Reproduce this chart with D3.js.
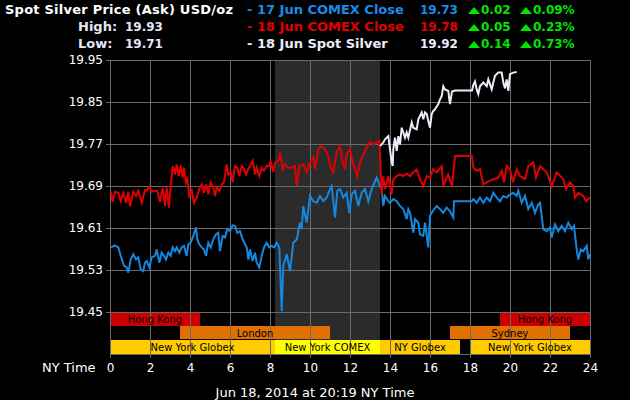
<!DOCTYPE html>
<html><head><meta charset="utf-8">
<script src="https://cdn.jsdelivr.net/npm/d3@7/dist/d3.min.js"></script>
<style>html,body{margin:0;padding:0;background:#000;overflow:hidden}svg{display:block}</style>
</head><body>
<svg id="chart" width="630" height="400"></svg>
<script>
// ---------- data ----------
const xTicks = [0, 2, 4, 6, 8, 10, 12, 14, 16, 18, 20, 22, 24];
const yTicks = [19.45, 19.53, 19.61, 19.69, 19.77, 19.85, 19.93];
const yTickLabels = ["19.45", "19.53", "19.61", "19.69", "19.77", "19.85", "19.95"];

const titleText = "Spot Silver Price (Ask) USD/oz";
const statLabels = ["High:", "Low:"];
const statValues = ["19.93", "19.71"];

const legendLabels = ["- 17 Jun COMEX Close", "- 18 Jun COMEX Close", "- 18 Jun Spot Silver"];
const legendCloses = ["19.73", "19.78", "19.92"];
const legendChanges = ["0.02", "0.05", "0.14"];
const legendPercents = ["0.09%", "0.23%", "0.73%"];

const xAxisLabel = "NY Time";
const timestampText = "Jun 18, 2014 at 20:19 NY Time";

// COMEX trading hours (shaded band)
const comexStart = 8.25, comexEnd = 13.5;

// trading sessions
const sessionNames = ["Hong Kong", "London", "New York Globex", "New York COMEX", "NY Globex", "Sydney", "New York Globex", "Hong Kong"];
const sessionTypes = ["hk", "london", "globex", "comex", "globex", "sydney", "globex", "hk"];
const sessionStart = [0, 3.5, 0, 8.25, 13.5, 17, 18, 19.5];
const sessionEnd = [4.5, 11, 8.25, 13.5, 17.5, 23, 24, 24];
const sessionRow = [0, 1, 2, 2, 2, 1, 2, 0];

// 17 Jun COMEX Close line (blue)
const blueHours = [0.05,0.25,0.415,0.535,0.7,0.835,0.915,1.035,1.165,1.3,1.415,1.535,1.665,1.75,1.835,1.965,2.085,2.25,2.335,2.465,2.585,2.7,2.8,2.915,3.035,3.135,3.25,3.335,3.465,3.585,3.7,3.835,3.915,4.035,4.165,4.3,4.365,4.465,4.585,4.7,4.8,4.915,5.035,5.165,5.3,5.415,5.5,5.635,5.75,5.865,6.0,6.135,6.25,6.365,6.5,6.635,6.75,6.835,6.915,7.0,7.135,7.25,7.335,7.465,7.585,7.7,7.835,7.965,8.085,8.2,8.335,8.465,8.585,8.665,8.835,9.0,9.165,9.335,9.5,9.585,9.665,9.835,10.0,10.165,10.335,10.5,10.665,10.835,11.0,11.085,11.25,11.365,11.5,11.665,11.835,11.965,12.085,12.25,12.415,12.585,12.75,12.915,13.085,13.25,13.335,13.465,13.585,13.665,13.75,13.915,14.0,14.165,14.335,14.5,14.665,14.835,14.915,15.0,15.165,15.25,15.415,15.5,15.665,15.75,15.915,16.0,16.085,16.335,16.5,16.665,16.835,17.0,17.165,17.2,18.085,18.165,18.335,18.5,18.665,18.835,19.0,19.165,19.335,19.5,19.665,19.835,20.0,20.165,20.335,20.415,20.585,20.75,20.915,21.085,21.25,21.415,21.5,21.665,21.835,22.0,22.085,22.25,22.415,22.585,22.75,22.915,23.085,23.2,23.335,23.415,23.535,23.665,23.835,23.915,24.0];
const blueValues = [19.573,19.577,19.573,19.557,19.538,19.535,19.525,19.550,19.560,19.550,19.554,19.531,19.528,19.544,19.547,19.535,19.554,19.557,19.569,19.544,19.563,19.557,19.550,19.563,19.557,19.573,19.566,19.573,19.563,19.573,19.576,19.557,19.579,19.582,19.595,19.611,19.588,19.579,19.573,19.569,19.557,19.582,19.573,19.588,19.598,19.601,19.566,19.595,19.592,19.608,19.604,19.615,19.614,19.601,19.604,19.588,19.579,19.573,19.550,19.569,19.547,19.563,19.544,19.535,19.557,19.573,19.582,19.573,19.576,19.573,19.582,19.573,19.452,19.538,19.560,19.528,19.582,19.588,19.620,19.608,19.652,19.620,19.671,19.661,19.658,19.671,19.661,19.668,19.684,19.690,19.630,19.681,19.684,19.668,19.677,19.639,19.674,19.681,19.652,19.677,19.684,19.661,19.684,19.699,19.706,19.693,19.684,19.652,19.671,19.661,19.658,19.665,19.661,19.652,19.646,19.627,19.646,19.639,19.601,19.627,19.620,19.598,19.595,19.620,19.573,19.633,19.639,19.652,19.646,19.639,19.649,19.642,19.630,19.661,19.661,19.665,19.658,19.668,19.658,19.668,19.661,19.677,19.668,19.661,19.671,19.668,19.674,19.677,19.671,19.681,19.658,19.671,19.646,19.658,19.639,19.655,19.658,19.608,19.604,19.611,19.592,19.617,19.604,19.614,19.604,19.620,19.608,19.614,19.569,19.550,19.569,19.566,19.576,19.550,19.560];

// 18 Jun COMEX Close line (red)
const redHours = [0.05,0.135,0.25,0.415,0.535,0.665,0.8,0.915,1.0,1.165,1.3,1.415,1.585,1.75,1.835,1.965,2.085,2.25,2.365,2.5,2.635,2.75,2.835,2.95,3.035,3.135,3.25,3.335,3.435,3.535,3.635,3.7,3.8,3.865,3.965,4.085,4.2,4.335,4.465,4.585,4.7,4.8,4.915,5.035,5.165,5.25,5.335,5.465,5.585,5.7,5.835,5.915,6.035,6.135,6.25,6.365,6.465,6.585,6.665,6.8,6.915,7.035,7.135,7.25,7.335,7.465,7.585,7.7,7.835,7.965,8.035,8.165,8.25,8.415,8.5,8.635,8.75,8.915,9.085,9.25,9.335,9.465,9.665,9.835,10.0,10.165,10.25,10.415,10.585,10.75,10.915,11.035,11.165,11.335,11.5,11.635,11.75,11.835,12.0,12.135,12.25,12.365,12.5,12.665,12.8,12.915,13.0,13.165,13.335,13.465,13.585,13.665,13.75,13.915,14.085,14.165,14.335,14.5,14.665,14.835,15.0,15.165,15.335,15.5,15.665,15.835,16.0,16.165,16.335,16.585,16.665,16.9,17.1,17.25,18.1,18.165,18.335,18.5,18.665,18.835,19.165,19.415,19.585,19.7,19.835,20.0,20.15,20.335,20.5,20.75,20.915,21.165,21.3,21.5,21.835,22.085,22.335,22.665,22.8,23.0,23.165,23.25,23.415,23.665,23.8,24.0];
const redValues = [19.679,19.660,19.679,19.677,19.661,19.677,19.658,19.679,19.651,19.679,19.671,19.681,19.658,19.682,19.681,19.689,19.679,19.681,19.681,19.660,19.687,19.652,19.687,19.649,19.690,19.728,19.712,19.731,19.709,19.729,19.706,19.725,19.697,19.703,19.671,19.681,19.658,19.668,19.684,19.693,19.677,19.693,19.674,19.697,19.687,19.671,19.687,19.681,19.693,19.697,19.731,19.712,19.716,19.697,19.728,19.725,19.709,19.728,19.725,19.712,19.722,19.731,19.738,19.712,19.725,19.709,19.725,19.719,19.728,19.728,19.738,19.716,19.735,19.738,19.754,19.722,19.731,19.725,19.725,19.728,19.690,19.728,19.731,19.716,19.735,19.744,19.722,19.760,19.766,19.760,19.747,19.725,19.716,19.754,19.766,19.735,19.722,19.750,19.760,19.735,19.722,19.709,19.735,19.750,19.760,19.769,19.774,19.769,19.773,19.776,19.674,19.709,19.684,19.709,19.674,19.703,19.709,19.712,19.709,19.714,19.709,19.716,19.721,19.703,19.690,19.709,19.706,19.722,19.716,19.728,19.690,19.712,19.689,19.747,19.747,19.725,19.719,19.722,19.693,19.697,19.703,19.706,19.719,19.697,19.728,19.722,19.697,19.722,19.709,19.703,19.728,19.735,19.706,19.728,19.716,19.690,19.716,19.703,19.684,19.697,19.690,19.668,19.677,19.671,19.661,19.668];

// 18 Jun Spot Silver line (white)
const spotHours = [13.5,13.665,13.75,13.915,14.0,14.085,14.135,14.165,14.25,14.335,14.415,14.5,14.585,14.665,14.75,14.835,14.915,15.085,15.165,15.335,15.415,15.585,15.665,15.75,15.835,15.915,16.0,16.085,16.165,16.25,16.415,16.5,16.585,16.665,16.75,16.915,16.965,17.0,17.1,17.25,18.1,18.165,18.25,18.335,18.415,18.5,18.665,18.835,18.915,19.085,19.165,19.25,19.415,19.585,19.665,19.75,19.835,19.915,20.0,20.165,20.335];
const spotValues = [19.766,19.773,19.779,19.785,19.760,19.735,19.728,19.760,19.782,19.757,19.785,19.769,19.801,19.792,19.782,19.792,19.782,19.811,19.801,19.798,19.817,19.830,19.817,19.830,19.827,19.814,19.801,19.827,19.833,19.836,19.846,19.855,19.861,19.880,19.874,19.871,19.855,19.846,19.870,19.872,19.872,19.882,19.889,19.874,19.865,19.880,19.887,19.880,19.893,19.874,19.887,19.900,19.906,19.906,19.887,19.876,19.893,19.871,19.903,19.906,19.907];

// ---------- chart ----------
const W = 630, H = 400;
const pL = 110, pR = 590, pT = 60, pB = 354;
const FONT = "'DejaVu Sans', Verdana, sans-serif";

const svg = d3.select("#chart");
svg.append("rect").attr("width", W).attr("height", H).attr("fill", "#000");

const x = d3.scaleLinear().domain([0, 24]).range([pL, pR]);
const y = d3.scaleLinear().domain([19.37, 19.93]).range([pB, pT]);

// COMEX shaded band
svg.append("rect")
  .attr("x", x(comexStart)).attr("y", pT)
  .attr("width", x(comexEnd) - x(comexStart)).attr("height", pB - pT)
  .attr("fill", "#2b2b2b");

// sessions
const sessionColor = {hk: "#cc0000", london: "#e07000", sydney: "#e07000", globex: "#ffcc00", comex: "#ffff00"};
const rowY = [313, 326, 340], rowH = [13, 13, 14], rowBase = [10, 11, 11];
const sessions = sessionNames.map((n, i) => ({name: n, type: sessionTypes[i], s: sessionStart[i], e: sessionEnd[i], row: sessionRow[i]}));
svg.append("g").selectAll("rect").data(sessions).join("rect")
  .attr("x", d => x(d.s)).attr("width", d => x(d.e) - x(d.s))
  .attr("y", d => rowY[d.row]).attr("height", d => rowH[d.row])
  .attr("fill", d => sessionColor[d.type]);

// grid
const grid = svg.append("g").attr("stroke", "#6a6a6a").attr("stroke-width", 1).attr("shape-rendering", "crispEdges");
grid.selectAll(".v").data(xTicks).join("line")
  .attr("x1", d => Math.round(x(d)) + 0.5).attr("x2", d => Math.round(x(d)) + 0.5)
  .attr("y1", pT).attr("y2", pB + 4);
grid.selectAll(".h").data(yTicks).join("line")
  .attr("x1", pL - 4).attr("x2", pR + 0.5)
  .attr("y1", d => Math.round(y(d)) + 0.5).attr("y2", d => Math.round(y(d)) + 0.5);
grid.append("line").attr("x1", pL).attr("x2", pR + 0.5).attr("y1", pB + 0.5).attr("y2", pB + 0.5);

// session labels
svg.append("g").selectAll("text").data(sessions).join("text")
  .attr("x", d => (x(d.s) + x(d.e)) / 2).attr("y", d => rowY[d.row] + rowBase[d.row])
  .attr("text-anchor", "middle").attr("font-family", FONT).attr("font-size", 10)
  .attr("fill", "#000").text(d => d.name);

// axes (labels)
const yAxis = d3.axisLeft(y).tickValues(yTicks).tickFormat((d, i) => yTickLabels[i]).tickSize(0).tickPadding(7);
const gy = svg.append("g").attr("transform", `translate(${pL},0)`).call(yAxis);
gy.select(".domain").remove();
gy.selectAll("text").attr("font-family", FONT).attr("font-size", 12).attr("fill", "#fff");

const xAxis = d3.axisBottom(x).tickValues(xTicks).tickFormat(d3.format("d")).tickSize(0);
const gx = svg.append("g").attr("transform", `translate(0,${pB})`).call(xAxis);
gx.select(".domain").remove();
gx.selectAll("text").attr("y", 18).attr("dy", null).attr("font-family", FONT).attr("font-size", 12).attr("fill", "#fff");

svg.append("text").attr("x", 42).attr("y", 372).attr("font-family", FONT).attr("font-size", 13)
  .attr("fill", "#fff").text(xAxisLabel);

// lines
const line = d3.line().x(d => x(d[0])).y(d => y(d[1]));
const series = [
  {h: blueHours, v: blueValues, c: "#1488e0"},
  {h: redHours, v: redValues, c: "#e00000"},
  {h: spotHours, v: spotValues, c: "#ececf8"}
];
svg.append("g").selectAll("path").data(series).join("path")
  .attr("d", s => line(s.h.map((h, i) => [h, s.v[i]])))
  .attr("fill", "none").attr("stroke", s => s.c).attr("stroke-width", 2);

// header
const hdr = svg.append("g").attr("font-family", FONT).attr("font-weight", "bold");
hdr.append("text").attr("x", 5).attr("y", 14).attr("font-size", 13).attr("fill", "#fff")
  .attr("textLength", 228).attr("lengthAdjust", "spacing").text(titleText);
statLabels.forEach((t, i) => {
  hdr.append("text").attr("x", 78).attr("y", 31 + 17 * i).attr("font-size", 13).attr("fill", "#e6e6f4").text(t);
  hdr.append("text").attr("x", 125).attr("y", 31 + 17 * i).attr("font-size", 12).attr("fill", "#e6e6f4").text(statValues[i]);
});
const legendColors = ["#1a8ce8", "#e00000", "#ececf8"];
const green = "#00e600";
legendLabels.forEach((t, i) => {
  const by = 14 + 17 * i;
  hdr.append("text").attr("x", 247).attr("y", by).attr("font-size", 13).attr("fill", legendColors[i]).text(t);
  hdr.append("text").attr("x", 420).attr("y", by).attr("font-size", 12).attr("fill", legendColors[i]).text(legendCloses[i]);
  [468, 520].forEach(tx => {
    hdr.append("path").attr("d", `M${tx},${by}L${tx + 12},${by}L${tx + 6},${by - 7}Z`).attr("fill", green);
  });
  hdr.append("text").attr("x", 481).attr("y", by).attr("font-size", 12).attr("fill", green).text(legendChanges[i]);
  hdr.append("text").attr("x", 533).attr("y", by).attr("font-size", 12).attr("fill", green).text(legendPercents[i]);
});

// timestamp
svg.append("text").attr("x", 315).attr("y", 397).attr("text-anchor", "middle")
  .attr("font-family", FONT).attr("font-size", 13).attr("fill", "#fff").text(timestampText);
</script>
</body></html>
